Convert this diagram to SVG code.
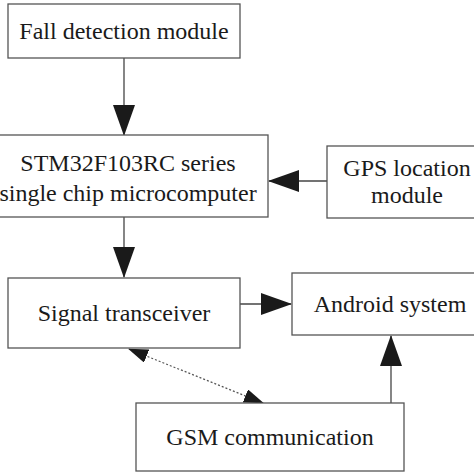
<svg xmlns="http://www.w3.org/2000/svg" width="474" height="474" viewBox="0 0 474 474">
<style>
.box{fill:#fff;stroke:#555;stroke-width:1.3}
.t{font-family:'Liberation Serif','DejaVu Serif',serif;font-size:24px;fill:#1a1a1a;text-anchor:middle}
.ln{stroke:#444;stroke-width:1.3;fill:none}
.dot{stroke:#555;stroke-width:1.2;stroke-dasharray:2 2;fill:none}
</style>
<defs>
<marker id="ah" markerUnits="userSpaceOnUse" markerWidth="31" markerHeight="22" viewBox="0 0 31 22" refX="30" refY="11" orient="auto">
<path d="M0,0 L31,11 L0,22 Z" fill="#1a1a1a"/>
</marker>
<marker id="sh" markerUnits="userSpaceOnUse" markerWidth="20" markerHeight="14" viewBox="0 0 20 14" refX="19" refY="7" orient="auto-start-reverse">
<path d="M0,0 L20,7 L0,14 Z" fill="#1a1a1a"/>
</marker>
</defs>
<rect width="474" height="474" fill="#fff"/>
<g id="connectors">
<line class="ln" x1="124" y1="58" x2="124" y2="135" marker-end="url(#ah)"/>
<line class="ln" x1="327" y1="181" x2="269" y2="181" marker-end="url(#ah)"/>
<line class="ln" x1="124" y1="217" x2="124" y2="277" marker-end="url(#ah)"/>
<line class="ln" x1="240" y1="304" x2="291" y2="304" marker-end="url(#ah)"/>
<line class="ln" x1="391" y1="403" x2="391" y2="336" marker-end="url(#ah)"/>
<line class="dot" x1="129" y1="349" x2="263" y2="403" marker-start="url(#sh)" marker-end="url(#sh)"/>
</g>
<g id="fall">
<rect class="box" x="8" y="4" width="232" height="54"/>
<text class="t" x="124" y="39">Fall detection module</text>
</g>
<g id="stm">
<rect class="box" x="-2" y="135" width="270" height="82"/>
<text class="t" x="128" y="171">STM32F103RC series</text>
<text class="t" x="128" y="201">single chip microcomputer</text>
</g>
<g id="gps">
<rect class="box" x="327" y="146" width="150" height="72"/>
<text class="t" x="407" y="176">GPS location</text>
<text class="t" x="407" y="203">module</text>
</g>
<g id="signal">
<rect class="box" x="8" y="278" width="232" height="70"/>
<text class="t" x="124" y="321">Signal transceiver</text>
</g>
<g id="android">
<rect class="box" x="292" y="273" width="184" height="62"/>
<text class="t" x="390" y="312">Android system</text>
</g>
<g id="gsm">
<rect class="box" x="136" y="403" width="268" height="68"/>
<text class="t" x="270" y="445">GSM communication</text>
</g>
</svg>
